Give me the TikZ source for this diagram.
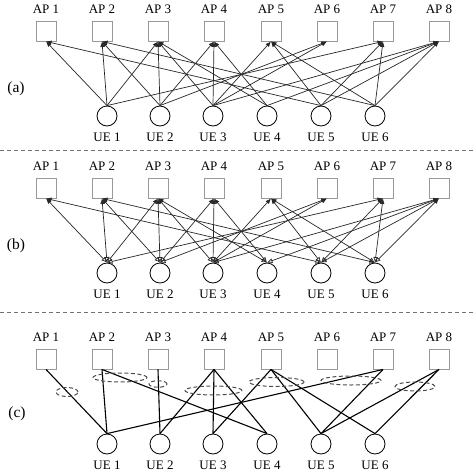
\documentclass[tikz,border=0pt]{standalone}
\usepackage{fontspec}
\setmainfont{Liberation Serif}
\usetikzlibrary{arrows.meta,shapes.geometric}
\begin{document}
\begin{tikzpicture}[x=1pt,y=-1pt,
  apbox/.style={draw=black!40, line width=0.9pt, minimum size=20pt, inner sep=0pt, fill=white},
  uecirc/.style={draw=black, line width=0.8pt, circle, minimum size=20pt, inner sep=0pt, fill=white},
  lbl/.style={font=\fontsize{13}{15}\selectfont, inner sep=0pt},
  plbl/.style={font=\fontsize{15.5}{17}\selectfont, inner sep=0pt},
  link/.style={draw=black!85, line width=0.7pt},
  upa/.style={link, -{Latex[length=5.5pt,width=4.5pt]}},
  upb/.style={link, {Latex[open,length=5.5pt,width=5pt]}-{Latex[length=5.5pt,width=4.5pt]}},
  linkc/.style={draw=black, line width=1.1pt},
  clus/.style={draw=black!70, dash pattern=on 4pt off 2.5pt, line width=1pt, ellipse, inner sep=0pt},
  sep/.style={draw=black!55, dash pattern=on 4pt off 3pt, line width=0.8pt}]
\useasboundingbox (0,0) rectangle (474,474);
\foreach \p/\dy in {a/0, b/157, c/328} {
  \foreach \i/\x in {1/46,2/102,3/158,4/214,5/271,6/327,7/383,8/439} {
    \node[apbox] (\p-ap\i) at (\x,31+\dy) {};
    \node[lbl] (\p-apl\i) at (\x,9+\dy) {AP \i};
  }
  \foreach \i/\x in {1/107,2/160,3/213,4/267,5/321,6/375} {
    \node[uecirc] (\p-ue\i) at (\x,116+\dy) {};
    \node[lbl] (\p-uel\i) at (\x,137+\dy) {UE \i};
  }
}
\node[plbl] (la) at (16,89) {(a)};
\node[plbl] (lb) at (16,246) {(b)};
\node[plbl] (lc) at (17,414) {(c)};
\coordinate (s1l) at (0,150); \coordinate (s1r) at (474,150);
\coordinate (s2l) at (0,312); \coordinate (s2r) at (474,312);
\draw[sep] (s1l) -- (s1r);
\draw[sep] (s2l) -- (s2r);
\foreach \u/\a in {1/1,1/2,1/3,1/7, 2/2,2/3,2/4,2/6, 3/3,3/4,3/5,3/6,3/8, 4/3,4/4,4/8, 5/1,5/5,5/7,5/8, 6/2,6/5,6/7,6/8} {
  \draw[upa] (a-ue\u.north) -- (a-ap\a.south);
  \draw[upb] (b-ue\u.north) -- (b-ap\a.south);
}
\foreach \a/\u in {1/1,2/1,2/4,3/2,4/2,4/3,4/4,5/3,5/5,5/6,7/1,7/5,8/5,8/6} {
  \draw[linkc] (c-ap\a.south) -- (c-ue\u.north);
}
\node[clus, minimum width=22pt, minimum height=9pt] (e1) at (67,392) {};
\node[clus, minimum width=54pt, minimum height=9pt] (e2) at (120,377.5) {};
\node[clus, minimum width=18pt, minimum height=6.5pt] (e3) at (158,384) {};
\node[clus, minimum width=57pt, minimum height=9pt] (e4) at (213.5,390.5) {};
\node[clus, minimum width=55pt, minimum height=9pt] (e5) at (276.5,382) {};
\node[clus, minimum width=60pt, minimum height=9pt] (e7) at (351,380.5) {};
\node[clus, minimum width=40pt, minimum height=9pt] (e8) at (415,386.5) {};
\end{tikzpicture}
\end{document}
